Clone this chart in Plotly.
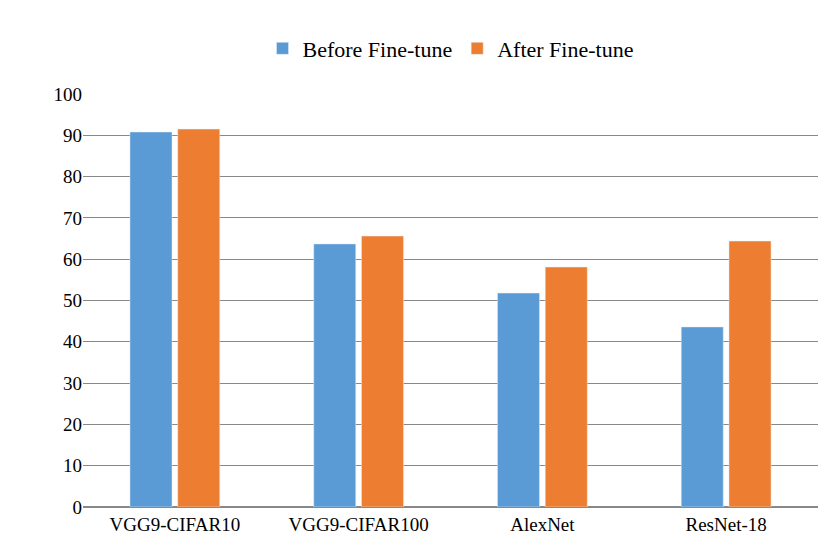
import plotly.graph_objects as go

models = ['VGG9-CIFAR10', 'VGG9-CIFAR100', 'AlexNet', 'ResNet-18']
before = [90.8, 63.7, 51.8, 43.6]
after = [91.5, 65.6, 58.1, 64.4]

fig = go.Figure()
fig.add_trace(go.Bar(x=models, y=before, name='Before Fine-tune', marker_color='#5B9BD5'))
fig.add_trace(go.Bar(x=models, y=after, name='After Fine-tune', marker_color='#ED7D31'))
fig.update_layout(
    width=832, height=543,
    font=dict(family='Liberation Serif', size=19, color='black'),
    plot_bgcolor='white', paper_bgcolor='white',
    barmode='group', bargap=0.48, bargroupgap=0.12,
    margin=dict(l=75, r=22, t=86, b=44, autoexpand=False),
    legend=dict(orientation='h', x=0.5, xanchor='center', y=1.11, yanchor='middle',
                font=dict(size=22)),
)
fig.update_yaxes(range=[0, 100], dtick=10, showgrid=True, gridcolor='#888888',
                 gridwidth=1, zeroline=True, zerolinecolor='#888888', ticklen=0)
fig.update_xaxes(showline=True, linecolor='#888888')
fig.write_html('out.html')
